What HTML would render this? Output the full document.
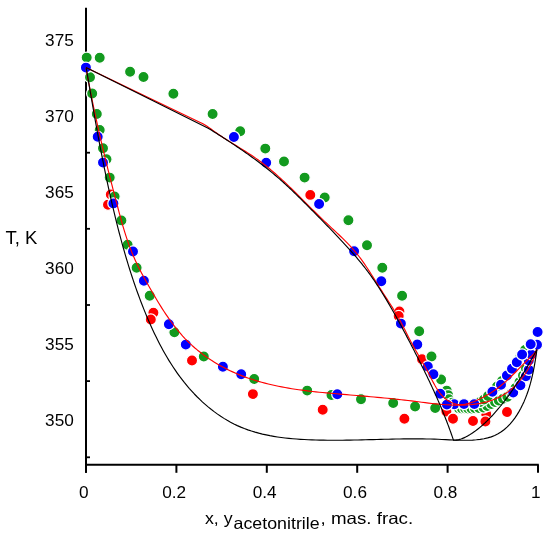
<!DOCTYPE html>
<html><head><meta charset="utf-8"><style>
html,body{margin:0;padding:0;background:#fff;}
svg{display:block;}
text{font-family:"Liberation Sans",sans-serif;fill:#000;}
</style></head><body>
<svg width="550" height="535" viewBox="0 0 550 535">
<rect width="550" height="535" fill="#fff"/>
<g font-size="17.2">
<text x="73.8" y="45.5" text-anchor="end">375</text>
<text x="73.8" y="121.6" text-anchor="end">370</text>
<text x="73.8" y="197.8" text-anchor="end">365</text>
<text x="73.8" y="273.9" text-anchor="end">360</text>
<text x="73.8" y="350.1" text-anchor="end">355</text>
<text x="73.8" y="426.2" text-anchor="end">350</text>
<text x="83.8" y="498.3" text-anchor="middle">0</text>
<text x="174.2" y="498.3" text-anchor="middle">0.2</text>
<text x="264.6" y="498.3" text-anchor="middle">0.4</text>
<text x="355.0" y="498.3" text-anchor="middle">0.6</text>
<text x="445.4" y="498.3" text-anchor="middle">0.8</text>
<text x="535.8" y="498.3" text-anchor="middle">1</text>
</g>
<text x="5.5" y="243.8" font-size="18.5">T, K</text>
<g font-size="16.5">
<text x="205.0" y="523.5" textLength="27.6" lengthAdjust="spacingAndGlyphs">x, y</text>
<text x="233.6" y="528.6" textLength="86.0" lengthAdjust="spacingAndGlyphs">acetonitrile</text>
<text x="320.6" y="523.5" textLength="92.6" lengthAdjust="spacingAndGlyphs">, mas. frac.</text>
</g>
<line x1="86" y1="7.8" x2="86" y2="472.8" stroke="#000" stroke-width="2"/>
<line x1="85" y1="464.8" x2="538.8" y2="464.8" stroke="#000" stroke-width="1.9"/>
<line x1="86.0" y1="464.8" x2="86.0" y2="472.8" stroke="#000" stroke-width="2"/>
<line x1="176.4" y1="464.8" x2="176.4" y2="472.8" stroke="#000" stroke-width="2"/>
<line x1="266.8" y1="464.8" x2="266.8" y2="472.8" stroke="#000" stroke-width="2"/>
<line x1="357.2" y1="464.8" x2="357.2" y2="472.8" stroke="#000" stroke-width="2"/>
<line x1="447.6" y1="464.8" x2="447.6" y2="472.8" stroke="#000" stroke-width="2"/>
<line x1="538.0" y1="464.8" x2="538.0" y2="472.8" stroke="#000" stroke-width="2"/>
<line x1="86" y1="76.5" x2="90" y2="76.5" stroke="#000" stroke-width="1.8"/>
<line x1="86" y1="152.7" x2="90" y2="152.7" stroke="#000" stroke-width="1.8"/>
<line x1="86" y1="228.8" x2="90" y2="228.8" stroke="#000" stroke-width="1.8"/>
<line x1="86" y1="305.0" x2="90" y2="305.0" stroke="#000" stroke-width="1.8"/>
<line x1="86" y1="381.1" x2="90" y2="381.1" stroke="#000" stroke-width="1.8"/>
<line x1="86" y1="457.3" x2="90" y2="457.3" stroke="#000" stroke-width="1.8"/>
<g>
<circle cx="108.0" cy="204.8" r="5.6" fill="#ff0000" stroke="#fff" stroke-width="1.25"/>
<circle cx="110.8" cy="194.5" r="5.6" fill="#ff0000" stroke="#fff" stroke-width="1.25"/>
<circle cx="153.4" cy="312.8" r="5.6" fill="#ff0000" stroke="#fff" stroke-width="1.25"/>
<circle cx="150.8" cy="319.4" r="5.6" fill="#ff0000" stroke="#fff" stroke-width="1.25"/>
<circle cx="192.0" cy="360.4" r="5.6" fill="#ff0000" stroke="#fff" stroke-width="1.25"/>
<circle cx="252.9" cy="394.1" r="5.6" fill="#ff0000" stroke="#fff" stroke-width="1.25"/>
<circle cx="322.7" cy="409.8" r="5.6" fill="#ff0000" stroke="#fff" stroke-width="1.25"/>
<circle cx="404.4" cy="418.7" r="5.6" fill="#ff0000" stroke="#fff" stroke-width="1.25"/>
<circle cx="310.3" cy="194.9" r="5.6" fill="#ff0000" stroke="#fff" stroke-width="1.25"/>
<circle cx="399.4" cy="311.4" r="5.6" fill="#ff0000" stroke="#fff" stroke-width="1.25"/>
<circle cx="398.7" cy="315.9" r="5.6" fill="#ff0000" stroke="#fff" stroke-width="1.25"/>
<circle cx="422.0" cy="359.2" r="5.6" fill="#ff0000" stroke="#fff" stroke-width="1.25"/>
<circle cx="446.4" cy="411.4" r="5.6" fill="#ff0000" stroke="#fff" stroke-width="1.25"/>
<circle cx="453.0" cy="418.7" r="5.6" fill="#ff0000" stroke="#fff" stroke-width="1.25"/>
<circle cx="473.0" cy="421.0" r="5.6" fill="#ff0000" stroke="#fff" stroke-width="1.25"/>
<circle cx="486.2" cy="414.0" r="5.6" fill="#ff0000" stroke="#fff" stroke-width="1.25"/>
<circle cx="485.4" cy="421.5" r="5.6" fill="#ff0000" stroke="#fff" stroke-width="1.25"/>
<circle cx="507.0" cy="412.0" r="5.6" fill="#ff0000" stroke="#fff" stroke-width="1.25"/>
<circle cx="86.7" cy="57.6" r="5.6" fill="#129a1e" stroke="#fff" stroke-width="1.25"/>
<circle cx="99.7" cy="57.8" r="5.6" fill="#129a1e" stroke="#fff" stroke-width="1.25"/>
<circle cx="130.1" cy="71.7" r="5.6" fill="#129a1e" stroke="#fff" stroke-width="1.25"/>
<circle cx="143.5" cy="77.0" r="5.6" fill="#129a1e" stroke="#fff" stroke-width="1.25"/>
<circle cx="173.4" cy="93.7" r="5.6" fill="#129a1e" stroke="#fff" stroke-width="1.25"/>
<circle cx="212.6" cy="114.0" r="5.6" fill="#129a1e" stroke="#fff" stroke-width="1.25"/>
<circle cx="240.2" cy="131.3" r="5.6" fill="#129a1e" stroke="#fff" stroke-width="1.25"/>
<circle cx="265.3" cy="148.6" r="5.6" fill="#129a1e" stroke="#fff" stroke-width="1.25"/>
<circle cx="284.0" cy="161.5" r="5.6" fill="#129a1e" stroke="#fff" stroke-width="1.25"/>
<circle cx="304.6" cy="177.6" r="5.6" fill="#129a1e" stroke="#fff" stroke-width="1.25"/>
<circle cx="324.7" cy="197.5" r="5.6" fill="#129a1e" stroke="#fff" stroke-width="1.25"/>
<circle cx="348.4" cy="220.2" r="5.6" fill="#129a1e" stroke="#fff" stroke-width="1.25"/>
<circle cx="367.0" cy="245.3" r="5.6" fill="#129a1e" stroke="#fff" stroke-width="1.25"/>
<circle cx="382.3" cy="267.8" r="5.6" fill="#129a1e" stroke="#fff" stroke-width="1.25"/>
<circle cx="402.1" cy="295.8" r="5.6" fill="#129a1e" stroke="#fff" stroke-width="1.25"/>
<circle cx="419.2" cy="331.3" r="5.6" fill="#129a1e" stroke="#fff" stroke-width="1.25"/>
<circle cx="431.5" cy="356.4" r="5.6" fill="#129a1e" stroke="#fff" stroke-width="1.25"/>
<circle cx="441.1" cy="379.4" r="5.6" fill="#129a1e" stroke="#fff" stroke-width="1.25"/>
<circle cx="446.7" cy="390.6" r="5.6" fill="#129a1e" stroke="#fff" stroke-width="1.25"/>
<circle cx="448.1" cy="395.1" r="5.6" fill="#129a1e" stroke="#fff" stroke-width="1.25"/>
<circle cx="448.9" cy="399.3" r="5.6" fill="#129a1e" stroke="#fff" stroke-width="1.25"/>
<circle cx="452.3" cy="402.7" r="5.6" fill="#129a1e" stroke="#fff" stroke-width="1.25"/>
<circle cx="90.0" cy="77.2" r="5.6" fill="#129a1e" stroke="#fff" stroke-width="1.25"/>
<circle cx="92.2" cy="93.5" r="5.6" fill="#129a1e" stroke="#fff" stroke-width="1.25"/>
<circle cx="96.8" cy="113.9" r="5.6" fill="#129a1e" stroke="#fff" stroke-width="1.25"/>
<circle cx="99.7" cy="130.0" r="5.6" fill="#129a1e" stroke="#fff" stroke-width="1.25"/>
<circle cx="103.0" cy="148.3" r="5.6" fill="#129a1e" stroke="#fff" stroke-width="1.25"/>
<circle cx="106.5" cy="159.3" r="5.6" fill="#129a1e" stroke="#fff" stroke-width="1.25"/>
<circle cx="109.7" cy="177.6" r="5.6" fill="#129a1e" stroke="#fff" stroke-width="1.25"/>
<circle cx="114.6" cy="196.5" r="5.6" fill="#129a1e" stroke="#fff" stroke-width="1.25"/>
<circle cx="121.4" cy="220.4" r="5.6" fill="#129a1e" stroke="#fff" stroke-width="1.25"/>
<circle cx="127.6" cy="244.8" r="5.6" fill="#129a1e" stroke="#fff" stroke-width="1.25"/>
<circle cx="136.6" cy="267.7" r="5.6" fill="#129a1e" stroke="#fff" stroke-width="1.25"/>
<circle cx="149.7" cy="295.7" r="5.6" fill="#129a1e" stroke="#fff" stroke-width="1.25"/>
<circle cx="174.4" cy="332.3" r="5.6" fill="#129a1e" stroke="#fff" stroke-width="1.25"/>
<circle cx="203.8" cy="356.5" r="5.6" fill="#129a1e" stroke="#fff" stroke-width="1.25"/>
<circle cx="254.2" cy="379.0" r="5.6" fill="#129a1e" stroke="#fff" stroke-width="1.25"/>
<circle cx="307.2" cy="390.6" r="5.6" fill="#129a1e" stroke="#fff" stroke-width="1.25"/>
<circle cx="331.5" cy="394.9" r="5.6" fill="#129a1e" stroke="#fff" stroke-width="1.25"/>
<circle cx="361.0" cy="399.2" r="5.6" fill="#129a1e" stroke="#fff" stroke-width="1.25"/>
<circle cx="393.2" cy="403.0" r="5.6" fill="#129a1e" stroke="#fff" stroke-width="1.25"/>
<circle cx="415.1" cy="406.4" r="5.6" fill="#129a1e" stroke="#fff" stroke-width="1.25"/>
<circle cx="435.2" cy="408.1" r="5.6" fill="#129a1e" stroke="#fff" stroke-width="1.25"/>
<circle cx="458.7" cy="408.3" r="5.6" fill="#129a1e" stroke="#fff" stroke-width="1.25"/>
<circle cx="461.9" cy="408.4" r="5.6" fill="#129a1e" stroke="#fff" stroke-width="1.25"/>
<circle cx="465.2" cy="408.5" r="5.6" fill="#129a1e" stroke="#fff" stroke-width="1.25"/>
<circle cx="468.1" cy="408.5" r="5.6" fill="#129a1e" stroke="#fff" stroke-width="1.25"/>
<circle cx="471.4" cy="408.4" r="5.6" fill="#129a1e" stroke="#fff" stroke-width="1.25"/>
<circle cx="475.0" cy="408.2" r="5.6" fill="#129a1e" stroke="#fff" stroke-width="1.25"/>
<circle cx="479.0" cy="408.0" r="5.6" fill="#129a1e" stroke="#fff" stroke-width="1.25"/>
<circle cx="483.5" cy="407.6" r="5.6" fill="#129a1e" stroke="#fff" stroke-width="1.25"/>
<circle cx="487.2" cy="406.1" r="5.6" fill="#129a1e" stroke="#fff" stroke-width="1.25"/>
<circle cx="491.3" cy="403.9" r="5.6" fill="#129a1e" stroke="#fff" stroke-width="1.25"/>
<circle cx="495.0" cy="402.0" r="5.6" fill="#129a1e" stroke="#fff" stroke-width="1.25"/>
<circle cx="498.8" cy="400.5" r="5.6" fill="#129a1e" stroke="#fff" stroke-width="1.25"/>
<circle cx="503.0" cy="398.7" r="5.6" fill="#129a1e" stroke="#fff" stroke-width="1.25"/>
<circle cx="507.4" cy="396.8" r="5.6" fill="#129a1e" stroke="#fff" stroke-width="1.25"/>
<circle cx="511.5" cy="393.0" r="5.6" fill="#129a1e" stroke="#fff" stroke-width="1.25"/>
<circle cx="515.5" cy="388.0" r="5.6" fill="#129a1e" stroke="#fff" stroke-width="1.25"/>
<circle cx="519.5" cy="382.0" r="5.6" fill="#129a1e" stroke="#fff" stroke-width="1.25"/>
<circle cx="523.0" cy="375.5" r="5.6" fill="#129a1e" stroke="#fff" stroke-width="1.25"/>
<circle cx="526.0" cy="368.5" r="5.6" fill="#129a1e" stroke="#fff" stroke-width="1.25"/>
<circle cx="529.0" cy="361.5" r="5.6" fill="#129a1e" stroke="#fff" stroke-width="1.25"/>
<circle cx="532.0" cy="354.5" r="5.6" fill="#129a1e" stroke="#fff" stroke-width="1.25"/>
<circle cx="480.0" cy="402.0" r="5.6" fill="#129a1e" stroke="#fff" stroke-width="1.25"/>
<circle cx="484.0" cy="399.4" r="5.6" fill="#129a1e" stroke="#fff" stroke-width="1.25"/>
<circle cx="488.0" cy="396.0" r="5.6" fill="#129a1e" stroke="#fff" stroke-width="1.25"/>
<circle cx="492.5" cy="391.5" r="5.6" fill="#129a1e" stroke="#fff" stroke-width="1.25"/>
<circle cx="497.0" cy="386.5" r="5.6" fill="#129a1e" stroke="#fff" stroke-width="1.25"/>
<circle cx="502.0" cy="381.0" r="5.6" fill="#129a1e" stroke="#fff" stroke-width="1.25"/>
<circle cx="507.0" cy="375.5" r="5.6" fill="#129a1e" stroke="#fff" stroke-width="1.25"/>
<circle cx="511.5" cy="369.5" r="5.6" fill="#129a1e" stroke="#fff" stroke-width="1.25"/>
<circle cx="516.0" cy="363.0" r="5.6" fill="#129a1e" stroke="#fff" stroke-width="1.25"/>
<circle cx="520.5" cy="356.5" r="5.6" fill="#129a1e" stroke="#fff" stroke-width="1.25"/>
<circle cx="525.0" cy="350.0" r="5.6" fill="#129a1e" stroke="#fff" stroke-width="1.25"/>
<circle cx="530.0" cy="344.0" r="5.6" fill="#129a1e" stroke="#fff" stroke-width="1.25"/>
<circle cx="85.9" cy="67.6" r="5.6" fill="#0000ff" stroke="#fff" stroke-width="1.25"/>
<circle cx="97.7" cy="136.8" r="5.6" fill="#0000ff" stroke="#fff" stroke-width="1.25"/>
<circle cx="103.0" cy="162.6" r="5.6" fill="#0000ff" stroke="#fff" stroke-width="1.25"/>
<circle cx="113.4" cy="203.4" r="5.6" fill="#0000ff" stroke="#fff" stroke-width="1.25"/>
<circle cx="133.0" cy="251.4" r="5.6" fill="#0000ff" stroke="#fff" stroke-width="1.25"/>
<circle cx="143.9" cy="280.7" r="5.6" fill="#0000ff" stroke="#fff" stroke-width="1.25"/>
<circle cx="168.9" cy="324.2" r="5.6" fill="#0000ff" stroke="#fff" stroke-width="1.25"/>
<circle cx="185.8" cy="344.6" r="5.6" fill="#0000ff" stroke="#fff" stroke-width="1.25"/>
<circle cx="222.9" cy="366.7" r="5.6" fill="#0000ff" stroke="#fff" stroke-width="1.25"/>
<circle cx="241.2" cy="374.3" r="5.6" fill="#0000ff" stroke="#fff" stroke-width="1.25"/>
<circle cx="337.3" cy="394.3" r="5.6" fill="#0000ff" stroke="#fff" stroke-width="1.25"/>
<circle cx="454.3" cy="404.3" r="5.6" fill="#0000ff" stroke="#fff" stroke-width="1.25"/>
<circle cx="464.0" cy="404.1" r="5.6" fill="#0000ff" stroke="#fff" stroke-width="1.25"/>
<circle cx="474.3" cy="404.1" r="5.6" fill="#0000ff" stroke="#fff" stroke-width="1.25"/>
<circle cx="513.2" cy="392.6" r="5.6" fill="#0000ff" stroke="#fff" stroke-width="1.25"/>
<circle cx="520.4" cy="385.3" r="5.6" fill="#0000ff" stroke="#fff" stroke-width="1.25"/>
<circle cx="525.9" cy="376.2" r="5.6" fill="#0000ff" stroke="#fff" stroke-width="1.25"/>
<circle cx="528.8" cy="369.8" r="5.6" fill="#0000ff" stroke="#fff" stroke-width="1.25"/>
<circle cx="528.8" cy="360.4" r="5.6" fill="#0000ff" stroke="#fff" stroke-width="1.25"/>
<circle cx="531.4" cy="354.4" r="5.6" fill="#0000ff" stroke="#fff" stroke-width="1.25"/>
<circle cx="535.8" cy="344.6" r="5.6" fill="#0000ff" stroke="#fff" stroke-width="1.25"/>
<circle cx="233.9" cy="137.0" r="5.6" fill="#0000ff" stroke="#fff" stroke-width="1.25"/>
<circle cx="266.2" cy="162.8" r="5.6" fill="#0000ff" stroke="#fff" stroke-width="1.25"/>
<circle cx="319.1" cy="204.0" r="5.6" fill="#0000ff" stroke="#fff" stroke-width="1.25"/>
<circle cx="354.1" cy="251.2" r="5.6" fill="#0000ff" stroke="#fff" stroke-width="1.25"/>
<circle cx="381.3" cy="281.3" r="5.6" fill="#0000ff" stroke="#fff" stroke-width="1.25"/>
<circle cx="400.9" cy="323.6" r="5.6" fill="#0000ff" stroke="#fff" stroke-width="1.25"/>
<circle cx="417.3" cy="344.5" r="5.6" fill="#0000ff" stroke="#fff" stroke-width="1.25"/>
<circle cx="427.8" cy="366.5" r="5.6" fill="#0000ff" stroke="#fff" stroke-width="1.25"/>
<circle cx="433.4" cy="374.3" r="5.6" fill="#0000ff" stroke="#fff" stroke-width="1.25"/>
<circle cx="440.2" cy="393.8" r="5.6" fill="#0000ff" stroke="#fff" stroke-width="1.25"/>
<circle cx="446.9" cy="404.6" r="5.6" fill="#0000ff" stroke="#fff" stroke-width="1.25"/>
<circle cx="492.4" cy="391.8" r="5.6" fill="#0000ff" stroke="#fff" stroke-width="1.25"/>
<circle cx="501.0" cy="384.7" r="5.6" fill="#0000ff" stroke="#fff" stroke-width="1.25"/>
<circle cx="506.9" cy="375.5" r="5.6" fill="#0000ff" stroke="#fff" stroke-width="1.25"/>
<circle cx="512.0" cy="368.8" r="5.6" fill="#0000ff" stroke="#fff" stroke-width="1.25"/>
<circle cx="516.8" cy="362.3" r="5.6" fill="#0000ff" stroke="#fff" stroke-width="1.25"/>
<circle cx="522.1" cy="354.5" r="5.6" fill="#0000ff" stroke="#fff" stroke-width="1.25"/>
<circle cx="537.0" cy="344.7" r="5.6" fill="#0000ff" stroke="#fff" stroke-width="1.25"/>
<circle cx="530.7" cy="344.3" r="5.6" fill="#0000ff" stroke="#fff" stroke-width="1.25"/>
<circle cx="537.6" cy="332.0" r="5.6" fill="#0000ff" stroke="#fff" stroke-width="1.25"/>
</g>
<g fill="none" stroke-linejoin="round" stroke-width="1.15">
<path d="M86.00,67.50 L143.00,94.90 L200.20,122.40 L200.20,122.40 L202.45,123.52 L204.60,124.74 L206.68,126.04 L208.70,127.40 L210.68,128.80 L212.65,130.22 L214.61,131.64 L216.59,133.05 L218.59,134.44 L220.62,135.80 L222.66,137.15 L224.72,138.49 L226.79,139.81 L228.88,141.12 L230.97,142.43 L233.07,143.73 L235.17,145.03 L237.28,146.32 L239.39,147.62 L241.49,148.93 L243.59,150.24 L245.68,151.56 L247.77,152.89 L249.84,154.24 L251.90,155.60 L253.94,156.98 L255.96,158.39 L257.96,159.81 L259.94,161.26 L261.90,162.73 L263.85,164.22 L265.77,165.73 L267.68,167.27 L269.57,168.81 L271.45,170.38 L273.32,171.97 L275.16,173.56 L277.00,175.18 L278.82,176.81 L280.64,178.45 L282.44,180.10 L284.23,181.77 L286.01,183.45 L287.79,185.13 L289.56,186.83 L291.32,188.53 L293.07,190.24 L294.82,191.96 L296.57,193.68 L298.31,195.41 L300.05,197.14 L301.78,198.88 L303.52,200.61 L305.25,202.35 L306.99,204.09 L308.73,205.83 L310.46,207.57 L312.21,209.30 L313.95,211.03 L315.70,212.76 L317.45,214.49 L319.21,216.21 L320.98,217.92 L322.76,219.62 L324.54,221.32 L326.33,223.01 L328.13,224.69 L329.93,226.37 L331.73,228.05 L333.53,229.72 L335.33,231.40 L337.13,233.08 L338.91,234.77 L340.69,236.46 L342.45,238.17 L344.20,239.88 L345.93,241.62 L347.64,243.37 L349.33,245.13 L351.00,246.92 L352.63,248.73 L354.24,250.57 L355.82,252.44 L357.36,254.33 L358.87,256.25 L360.35,258.20 L361.80,260.17 L363.22,262.16 L364.63,264.18 L366.01,266.21 L367.37,268.26 L368.72,270.32 L370.05,272.39 L371.38,274.46 L372.69,276.55 L374.00,278.64 L375.31,280.73 L376.62,282.82 L377.93,284.91 L379.24,286.99 L380.56,289.07 L381.89,291.14 L383.22,293.21 L384.56,295.27 L385.89,297.33 L387.23,299.39 L388.55,301.45 L389.88,303.51 L391.19,305.58 L392.49,307.66 L393.78,309.74 L395.05,311.84 L396.30,313.94 L397.54,316.06 L398.75,318.20 L399.93,320.35 L401.09,322.52 L402.24,324.71 L403.36,326.90 L404.48,329.10 L405.59,331.30 L406.69,333.50 L407.80,335.70 L408.92,337.89 L410.04,340.07 L411.18,342.24 L412.34,344.39 L413.52,346.53 L414.70,348.66 L415.90,350.78 L417.11,352.89 L418.32,355.00 L419.54,357.11 L420.76,359.22 L421.98,361.33 L423.19,363.45 L424.39,365.58 L425.59,367.73 L426.78,369.88 L427.95,372.05 L429.11,374.25 L430.24,376.46 L431.37,378.69 L432.50,380.91 L433.65,383.13 L434.84,385.32 L436.08,387.47 L437.38,389.56 L438.77,391.59 L440.25,393.54 L441.85,395.38 L443.57,397.12 L445.41,398.73 L447.35,400.19 L449.39,401.47 L451.52,402.57 L453.72,403.45 L455.99,404.11 L458.32,404.51 L460.69,404.65 L463.10,404.52 L465.54,404.16 L467.99,403.60 L470.44,402.87 L472.87,401.99 L475.28,401.01 L477.65,399.94 L479.98,398.83 L482.24,397.69 L484.44,396.53 L486.58,395.35 L488.68,394.14 L490.73,392.90 L492.73,391.62 L494.70,390.30 L496.64,388.93 L498.55,387.51 L500.44,386.03 L502.30,384.50 L504.15,382.93 L505.97,381.31 L507.78,379.65 L509.58,377.97 L511.36,376.25 L513.13,374.52 L514.90,372.76 L516.65,371.00 L518.40,369.22 L520.14,367.45 L521.88,365.67 L523.61,363.90 L525.35,362.15 L527.09,360.41 L528.83,358.69 L530.57,356.99 L532.30,355.30 L533.96,353.54 L535.51,351.66 L536.90,349.60" stroke="#ff0000"/>
<path d="M86.00,67.80 L86.60,71.18 L87.22,74.57 L87.84,77.95 L88.47,81.32 L89.11,84.70 L89.77,88.07 L90.43,91.45 L91.09,94.82 L91.77,98.18 L92.46,101.55 L93.15,104.92 L93.86,108.28 L94.57,111.64 L95.29,115.00 L96.01,118.36 L96.75,121.71 L97.49,125.07 L98.24,128.42 L99.00,131.77 L99.76,135.12 L100.53,138.47 L101.31,141.82 L102.10,145.17 L102.89,148.51 L103.68,151.85 L104.49,155.19 L105.30,158.53 L106.11,161.87 L106.94,165.21 L107.76,168.55 L108.60,171.88 L109.43,175.22 L110.28,178.55 L111.13,181.88 L111.98,185.21 L112.84,188.54 L113.70,191.87 L114.57,195.20 L115.44,198.52 L116.31,201.85 L117.19,205.17 L118.08,208.50 L118.96,211.82 L119.86,215.14 L120.77,218.45 L121.69,221.76 L122.63,225.07 L123.60,228.36 L124.59,231.64 L125.61,234.91 L126.67,238.17 L127.77,241.41 L128.90,244.64 L130.09,247.84 L131.32,251.03 L132.60,254.20 L133.95,257.34 L135.34,260.46 L136.79,263.56 L138.29,266.64 L139.83,269.70 L141.41,272.75 L143.03,275.79 L144.67,278.81 L146.34,281.82 L148.04,284.82 L149.75,287.82 L151.48,290.81 L153.22,293.80 L154.97,296.78 L156.74,299.76 L158.53,302.71 L160.34,305.65 L162.18,308.58 L164.05,311.47 L165.95,314.35 L167.89,317.19 L169.86,320.01 L171.88,322.78 L173.94,325.52 L176.05,328.22 L178.20,330.88 L180.41,333.48 L182.68,336.04 L185.00,338.54 L187.39,340.99 L189.84,343.37 L192.35,345.70 L194.92,347.97 L197.55,350.18 L200.23,352.32 L202.96,354.41 L205.75,356.43 L208.58,358.40 L211.45,360.30 L214.37,362.14 L217.33,363.92 L220.32,365.63 L223.35,367.29 L226.41,368.88 L229.50,370.41 L232.62,371.87 L235.77,373.27 L238.93,374.61 L242.12,375.88 L245.33,377.09 L248.56,378.24 L251.80,379.33 L255.06,380.37 L258.34,381.36 L261.63,382.29 L264.94,383.18 L268.26,384.01 L271.60,384.80 L274.95,385.55 L278.31,386.25 L281.68,386.92 L285.06,387.55 L288.45,388.14 L291.85,388.70 L295.25,389.23 L298.67,389.72 L302.08,390.19 L305.51,390.64 L308.94,391.06 L312.37,391.46 L315.80,391.83 L319.24,392.20 L322.67,392.54 L326.11,392.87 L329.54,393.19 L332.98,393.50 L336.41,393.80 L339.84,394.10 L343.26,394.39 L346.69,394.68 L350.10,394.97 L353.52,395.26 L356.93,395.54 L360.34,395.83 L363.75,396.12 L367.16,396.42 L370.56,396.71 L373.97,397.01 L377.37,397.32 L380.77,397.63 L384.18,397.96 L387.58,398.29 L390.99,398.63 L394.40,398.98 L397.80,399.34 L401.22,399.71 L404.63,400.10 L408.04,400.50 L411.46,400.92 L414.89,401.34 L418.31,401.78 L421.74,402.21 L425.17,402.64 L428.60,403.06 L432.04,403.46 L435.48,403.83 L438.92,404.17 L442.36,404.47 L445.81,404.72 L449.25,404.93 L452.70,405.08 L456.15,405.16 L459.60,405.17 L463.06,405.11 L466.50,404.96 L469.94,404.72 L473.36,404.38 L476.76,403.93 L480.12,403.37 L483.45,402.68 L486.74,401.87 L489.97,400.91 L493.15,399.81 L496.26,398.55 L499.31,397.14 L502.27,395.55 L505.16,393.79 L507.96,391.85 L510.66,389.75 L513.28,387.51 L515.79,385.12 L518.20,382.61 L520.50,379.98 L522.70,377.24 L524.78,374.41 L526.74,371.49 L528.59,368.49 L530.30,365.44 L531.89,362.33 L533.35,359.18 L534.68,356.00 L535.86,352.80 L536.90,349.60" stroke="#ff0000"/>
<path d="M86.00,67.60 L150.00,99.20 L208.20,128.20 L208.20,128.20 L209.92,129.27 L211.65,130.34 L213.37,131.42 L215.09,132.50 L216.81,133.58 L218.53,134.67 L220.25,135.76 L221.97,136.85 L223.69,137.95 L225.40,139.06 L227.11,140.16 L228.82,141.28 L230.52,142.39 L232.23,143.51 L233.93,144.64 L235.62,145.77 L237.32,146.91 L239.01,148.06 L240.69,149.20 L242.37,150.36 L244.05,151.52 L245.72,152.69 L247.39,153.86 L249.06,155.04 L250.71,156.23 L252.37,157.42 L254.02,158.62 L255.66,159.83 L257.29,161.05 L258.92,162.27 L260.55,163.50 L262.16,164.74 L263.77,165.99 L265.38,167.24 L266.98,168.50 L268.56,169.78 L270.15,171.06 L271.72,172.34 L273.29,173.64 L274.85,174.95 L276.40,176.26 L277.94,177.59 L279.48,178.92 L281.00,180.27 L282.52,181.62 L284.03,182.98 L285.53,184.36 L287.02,185.74 L288.51,187.12 L289.99,188.52 L291.47,189.92 L292.93,191.33 L294.40,192.75 L295.86,194.17 L297.31,195.59 L298.77,197.02 L300.21,198.46 L301.66,199.89 L303.11,201.33 L304.55,202.77 L305.99,204.21 L307.43,205.65 L308.88,207.10 L310.32,208.54 L311.75,209.99 L313.19,211.43 L314.63,212.88 L316.06,214.33 L317.50,215.79 L318.93,217.24 L320.36,218.69 L321.79,220.15 L323.22,221.61 L324.64,223.07 L326.06,224.54 L327.49,226.00 L328.90,227.47 L330.32,228.94 L331.73,230.41 L333.15,231.88 L334.55,233.36 L335.96,234.84 L337.36,236.32 L338.76,237.81 L340.16,239.29 L341.56,240.78 L342.95,242.27 L344.33,243.77 L345.71,245.27 L347.09,246.78 L348.46,248.29 L349.82,249.80 L351.18,251.32 L352.53,252.85 L353.87,254.38 L355.20,255.92 L356.52,257.46 L357.84,259.02 L359.14,260.58 L360.44,262.14 L361.72,263.72 L362.99,265.31 L364.25,266.90 L365.50,268.50 L366.73,270.12 L367.96,271.74 L369.16,273.37 L370.36,275.02 L371.53,276.67 L372.70,278.34 L373.85,280.01 L374.99,281.69 L376.12,283.39 L377.24,285.08 L378.35,286.79 L379.45,288.50 L380.54,290.22 L381.62,291.95 L382.70,293.68 L383.76,295.41 L384.82,297.15 L385.88,298.90 L386.92,300.65 L387.96,302.40 L388.99,304.16 L390.02,305.92 L391.04,307.69 L392.06,309.46 L393.07,311.24 L394.07,313.01 L395.07,314.79 L396.06,316.58 L397.05,318.37 L398.03,320.16 L399.01,321.95 L399.99,323.74 L400.96,325.54 L401.92,327.34 L402.89,329.14 L403.85,330.94 L404.80,332.75 L405.76,334.56 L406.71,336.36 L407.66,338.17 L408.60,339.98 L409.55,341.79 L410.49,343.60 L411.43,345.41 L412.37,347.22 L413.30,349.04 L414.24,350.85 L415.17,352.66 L416.09,354.48 L417.02,356.29 L417.94,358.11 L418.86,359.93 L419.78,361.75 L420.69,363.57 L421.60,365.39 L422.51,367.21 L423.41,369.03 L424.31,370.86 L425.20,372.69 L426.09,374.52 L426.98,376.35 L427.86,378.18 L428.73,380.02 L429.61,381.85 L430.47,383.69 L431.34,385.54 L432.19,387.38 L433.04,389.23 L433.89,391.08 L434.73,392.93 L435.57,394.78 L436.39,396.64 L437.22,398.50 L438.03,400.36 L438.84,402.23 L439.65,404.10 L440.44,405.97 L441.24,407.84 L442.02,409.72 L442.80,411.60 L443.56,413.49 L444.33,415.38 L445.08,417.27 L445.83,419.17 L446.57,421.07 L447.30,422.97 L448.02,424.88 L448.74,426.79 L449.44,428.71 L450.14,430.63 L450.83,432.56 L451.51,434.48 L452.18,436.42 L452.85,438.36 L453.50,440.30 L453.50,440.30 L454.15,440.29 L454.80,440.26 L455.44,440.21 L456.08,440.15 L456.71,440.06 L457.33,439.96 L457.95,439.84 L458.56,439.71 L459.17,439.56 L459.77,439.40 L460.36,439.23 L460.95,439.04 L461.54,438.83 L462.12,438.62 L462.70,438.39 L463.27,438.15 L463.84,437.90 L464.41,437.65 L464.97,437.38 L465.53,437.10 L466.09,436.82 L466.64,436.52 L467.19,436.22 L467.73,435.92 L468.28,435.60 L468.82,435.28 L469.36,434.96 L469.89,434.63 L470.43,434.30 L470.96,433.96 L471.49,433.62 L472.02,433.27 L472.55,432.92 L473.07,432.56 L473.59,432.20 L474.11,431.84 L474.63,431.47 L475.14,431.10 L475.66,430.72 L476.17,430.34 L476.68,429.96 L477.18,429.57 L477.69,429.18 L478.19,428.79 L478.69,428.39 L479.19,427.98 L479.68,427.58 L480.18,427.17 L480.67,426.76 L481.16,426.34 L481.65,425.92 L482.13,425.50 L482.62,425.07 L483.10,424.64 L483.58,424.21 L484.06,423.78 L484.53,423.34 L485.01,422.90 L485.48,422.46 L485.95,422.01 L486.41,421.57 L486.88,421.11 L487.34,420.66 L487.81,420.21 L488.27,419.75 L488.72,419.29 L489.18,418.83 L489.63,418.36 L490.09,417.90 L490.54,417.43 L490.98,416.96 L491.43,416.49 L491.87,416.01 L492.32,415.54 L492.76,415.06 L493.20,414.58 L493.63,414.10 L494.07,413.62 L494.50,413.13 L494.93,412.65 L495.36,412.16 L495.79,411.68 L496.21,411.19 L496.64,410.70 L497.06,410.21 L497.48,409.72 L497.90,409.22 L498.31,408.73 L498.73,408.24 L499.14,407.74 L499.55,407.25 L499.96,406.75 L500.37,406.25 L500.77,405.75 L501.18,405.26 L501.58,404.76 L501.98,404.26 L502.38,403.75 L502.78,403.25 L503.17,402.75 L503.57,402.25 L503.96,401.74 L504.35,401.24 L504.74,400.73 L505.13,400.23 L505.52,399.72 L505.90,399.21 L506.28,398.70 L506.67,398.20 L507.05,397.69 L507.42,397.17 L507.80,396.66 L508.18,396.15 L508.55,395.64 L508.93,395.12 L509.30,394.61 L509.67,394.10 L510.04,393.58 L510.40,393.06 L510.77,392.55 L511.14,392.03 L511.50,391.51 L511.86,390.99 L512.22,390.47 L512.58,389.95 L512.94,389.43 L513.30,388.91 L513.66,388.38 L514.01,387.86 L514.37,387.34 L514.72,386.81 L515.07,386.29 L515.42,385.76 L515.77,385.23 L516.12,384.71 L516.47,384.18 L516.81,383.65 L517.16,383.12 L517.50,382.59 L517.85,382.06 L518.19,381.53 L518.53,380.99 L518.87,380.46 L519.21,379.93 L519.55,379.39 L519.89,378.86 L520.22,378.32 L520.56,377.78 L520.90,377.25 L521.23,376.71 L521.56,376.17 L521.90,375.63 L522.23,375.09 L522.56,374.55 L522.89,374.01 L523.22,373.47 L523.55,372.93 L523.87,372.38 L524.20,371.84 L524.53,371.30 L524.85,370.75 L525.18,370.21 L525.50,369.66 L525.83,369.11 L526.15,368.57 L526.47,368.02 L526.80,367.47 L527.12,366.92 L527.44,366.37 L527.76,365.82 L528.08,365.27 L528.40,364.72 L528.72,364.17 L529.04,363.61 L529.36,363.06 L529.67,362.51 L529.99,361.95 L530.31,361.40 L530.63,360.84 L530.94,360.28 L531.26,359.73 L531.57,359.17 L531.89,358.61 L532.20,358.05 L532.52,357.49 L532.83,356.93 L533.15,356.37 L533.46,355.81 L533.77,355.25 L534.09,354.69 L534.40,354.12 L534.71,353.56 L535.03,353.00 L535.34,352.43 L535.65,351.87 L535.96,351.30 L536.28,350.73 L536.59,350.17 L536.90,349.60" stroke="#000"/>
<path d="M86.20,67.80 L86.84,71.57 L87.47,75.34 L88.11,79.11 L88.75,82.87 L89.39,86.64 L90.04,90.41 L90.68,94.18 L91.33,97.95 L91.98,101.72 L92.64,105.49 L93.30,109.25 L93.96,113.02 L94.63,116.79 L95.30,120.55 L95.98,124.32 L96.66,128.08 L97.35,131.85 L98.05,135.61 L98.75,139.37 L99.45,143.13 L100.17,146.89 L100.89,150.64 L101.62,154.40 L102.35,158.15 L103.10,161.90 L103.85,165.65 L104.61,169.40 L105.39,173.15 L106.17,176.89 L106.96,180.63 L107.75,184.37 L108.56,188.11 L109.39,191.85 L110.22,195.58 L111.06,199.31 L111.91,203.04 L112.78,206.76 L113.66,210.48 L114.55,214.20 L115.45,217.92 L116.37,221.63 L117.30,225.34 L118.24,229.04 L119.20,232.74 L120.18,236.44 L121.17,240.13 L122.17,243.82 L123.19,247.51 L124.24,251.19 L125.29,254.86 L126.37,258.53 L127.47,262.19 L128.59,265.84 L129.73,269.49 L130.88,273.13 L132.07,276.76 L133.27,280.39 L134.50,284.01 L135.75,287.62 L137.03,291.22 L138.33,294.81 L139.66,298.40 L141.01,301.97 L142.40,305.54 L143.81,309.09 L145.24,312.63 L146.71,316.17 L148.21,319.69 L149.74,323.20 L151.30,326.70 L152.89,330.18 L154.52,333.65 L156.18,337.10 L157.89,340.53 L159.63,343.94 L161.42,347.32 L163.25,350.68 L165.12,354.01 L167.05,357.31 L169.02,360.58 L171.04,363.81 L173.11,367.01 L175.24,370.18 L177.42,373.31 L179.65,376.40 L181.95,379.44 L184.30,382.45 L186.72,385.40 L189.20,388.31 L191.75,391.17 L194.36,393.98 L197.04,396.74 L199.79,399.44 L202.59,402.08 L205.47,404.64 L208.40,407.14 L211.39,409.56 L214.45,411.90 L217.56,414.15 L220.72,416.32 L223.94,418.38 L227.21,420.35 L230.54,422.22 L233.91,423.97 L237.33,425.61 L240.80,427.14 L244.31,428.55 L247.87,429.86 L251.46,431.06 L255.09,432.16 L258.75,433.17 L262.44,434.09 L266.16,434.92 L269.91,435.68 L273.68,436.35 L277.47,436.96 L281.27,437.49 L285.09,437.97 L288.92,438.38 L292.76,438.74 L296.61,439.05 L300.46,439.32 L304.31,439.55 L308.16,439.73 L312.01,439.89 L315.85,440.02 L319.69,440.12 L323.52,440.19 L327.35,440.24 L331.18,440.26 L335.00,440.27 L338.83,440.26 L342.64,440.22 L346.46,440.18 L350.27,440.12 L354.09,440.05 L357.90,439.97 L361.71,439.88 L365.51,439.79 L369.32,439.69 L373.13,439.59 L376.94,439.49 L380.74,439.39 L384.55,439.29 L388.36,439.20 L392.17,439.12 L395.97,439.04 L399.79,438.98 L403.60,438.92 L407.41,438.88 L411.23,438.86 L415.05,438.86 L418.87,438.87 L422.69,438.91 L426.52,438.96 L430.35,439.05 L434.18,439.16 L438.02,439.30 L441.86,439.47 L445.71,439.65 L449.55,439.84 L453.40,440.01 L457.25,440.15 L461.10,440.25 L464.95,440.28 L468.79,440.22 L472.63,440.07 L476.45,439.80 L480.24,439.37 L483.98,438.75 L487.65,437.92 L491.24,436.84 L494.72,435.48 L498.08,433.82 L501.30,431.81 L504.37,429.48 L507.27,426.88 L509.98,424.09 L512.49,421.15 L514.82,418.09 L516.98,414.91 L518.97,411.64 L520.82,408.28 L522.53,404.86 L524.12,401.39 L525.59,397.87 L526.95,394.30 L528.20,390.70 L529.36,387.07 L530.42,383.40 L531.40,379.70 L532.30,375.98 L533.12,372.24 L533.88,368.49 L534.58,364.72 L535.23,360.94 L535.82,357.16 L536.38,353.38 L536.90,349.60" stroke="#000"/>
</g>
</svg>
</body></html>
